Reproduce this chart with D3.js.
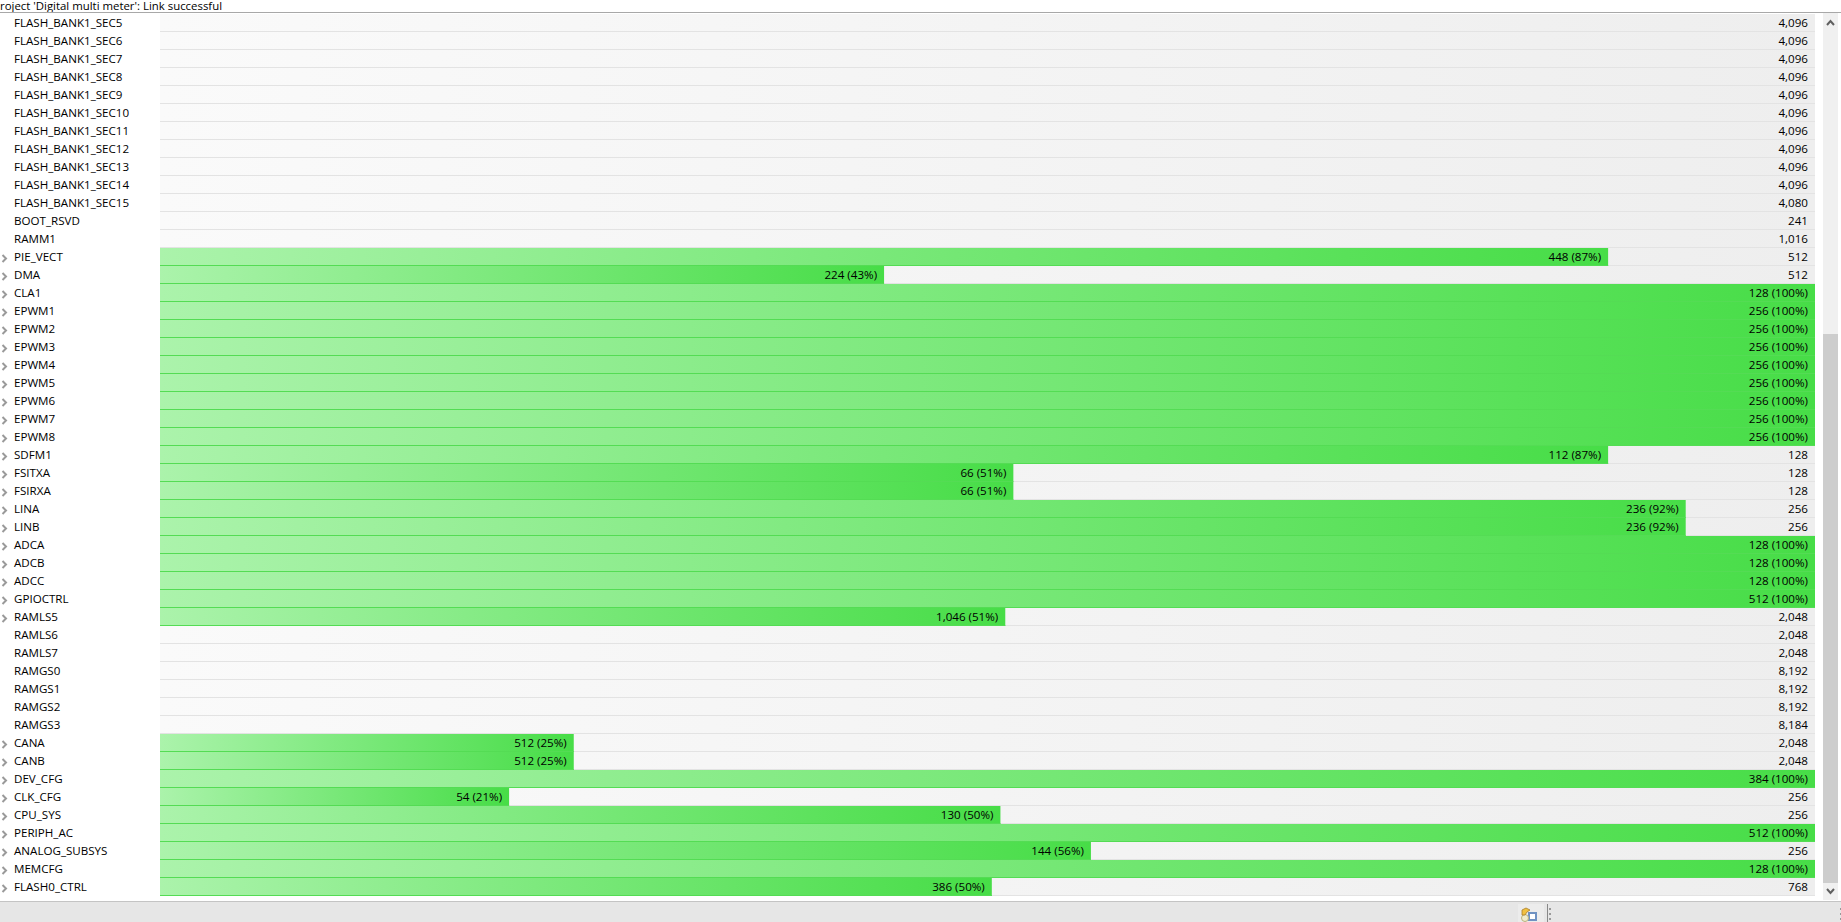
<!DOCTYPE html>
<html>
<head>
<meta charset="utf-8">
<title>Memory allocation</title>
<script src="https://cdn.jsdelivr.net/npm/d3@7"></script>
<style>
  html, body { margin: 0; padding: 0; background: #fff; overflow: hidden; }
  text { font-family: "Open Sans", "Noto Sans", sans-serif; font-size: 11.6px; fill: #000; }
</style>
</head>
<body>
<div id="chart"></div>
<script>
var names = ['FLASH_BANK1_SEC5','FLASH_BANK1_SEC6','FLASH_BANK1_SEC7','FLASH_BANK1_SEC8','FLASH_BANK1_SEC9',
  'FLASH_BANK1_SEC10','FLASH_BANK1_SEC11','FLASH_BANK1_SEC12','FLASH_BANK1_SEC13','FLASH_BANK1_SEC14','FLASH_BANK1_SEC15',
  'BOOT_RSVD','RAMM1','PIE_VECT','DMA','CLA1','EPWM1','EPWM2','EPWM3','EPWM4','EPWM5','EPWM6','EPWM7','EPWM8',
  'SDFM1','FSITXA','FSIRXA','LINA','LINB','ADCA','ADCB','ADCC','GPIOCTRL','RAMLS5','RAMLS6','RAMLS7',
  'RAMGS0','RAMGS1','RAMGS2','RAMGS3','CANA','CANB','DEV_CFG','CLK_CFG','CPU_SYS','PERIPH_AC','ANALOG_SUBSYS','MEMCFG','FLASH0_CTRL'];

var sizes = [4096,4096,4096,4096,4096,4096,4096,4096,4096,4096,4080,
  241,1016,512,512,128,256,256,256,256,256,256,256,256,
  128,128,128,256,256,128,128,128,512,2048,2048,2048,
  8192,8192,8192,8184,2048,2048,384,256,256,512,256,128,768];

var used = [0,0,0,0,0,0,0,0,0,0,0,
  0,0,448,224,128,256,256,256,256,256,256,256,256,
  112,66,66,236,236,128,128,128,512,1046,0,0,
  0,0,0,0,512,512,384,54,130,512,144,128,386];

var title = "roject 'Digital multi meter': Link successful";

var w = 1841, h = 922;
var barLeft = 160, barRight = 1815;

var rows = names.map(function(d, i) {
  return { name: d, size: sizes[i], used: used[i], i: i };
});

var svg = d3.select('#chart').append('svg')
  .attr('width', w)
  .attr('height', h)
  .style('display', 'block');

var defs = svg.append('defs');

function gradient(id, from, to) {
  var g = defs.append('linearGradient').attr('id', id);
  g.append('stop').attr('offset', '0%').attr('stop-color', from);
  g.append('stop').attr('offset', '100%').attr('stop-color', to);
}
gradient('free', '#fafafa', '#eeeeee');
gradient('fill', '#abf3ab', '#47dd47');

var y = d3.scaleBand()
  .domain(names)
  .range([14, 896]);

// each row has its own 0..size axis, they all span the same pixels
function xFor(d) {
  return d3.scaleLinear().domain([0, d.size]).range([barLeft, barRight]);
}

// top status line
svg.append('text')
  .attr('x', 0)
  .attr('y', 9.5)
  .style('font-size', '11.4px')
  .text(title);
svg.append('rect')
  .attr('x', 0).attr('y', 12)
  .attr('width', w).attr('height', 1)
  .attr('fill', '#a8a8a8');

var row = svg.selectAll('g.row')
  .data(rows)
  .enter().append('g')
  .attr('class', 'row');

row.append('rect')
  .attr('x', barLeft)
  .attr('y', function(d) { return y(d.name); })
  .attr('width', barRight - barLeft)
  .attr('height', y.bandwidth())
  .attr('fill', 'url(#free)');

// row separator
row.append('rect')
  .attr('x', barLeft)
  .attr('y', function(d) { return y(d.name) + y.bandwidth() - 1; })
  .attr('width', barRight - barLeft)
  .attr('height', 1)
  .attr('fill', '#e3e3e3');

var filled = row.filter(function(d) { return d.used > 0; });

filled.append('rect')
  .attr('x', barLeft)
  .attr('y', function(d) { return y(d.name); })
  .attr('width', function(d) { return xFor(d)(d.used) - barLeft; })
  .attr('height', y.bandwidth())
  .attr('fill', 'url(#fill)');

filled.append('rect')
  .attr('x', barLeft)
  .attr('y', function(d) { return y(d.name) + y.bandwidth() - 1; })
  .attr('width', function(d) { return xFor(d)(d.used) - barLeft; })
  .attr('height', 1)
  .attr('fill', '#54dc54');

// names
row.append('text')
  .attr('x', 14)
  .attr('y', function(d) { return y(d.name) + 13; })
  .text(function(d) { return d.name; });

// expand arrows
filled.append('path')
  .attr('d', function(d) {
    var c = y(d.name) + 10;
    return 'M2.5,' + (c - 3) + 'L6,' + (c + 0.5) + 'L2.5,' + (c + 4);
  })
  .attr('fill', 'none')
  .attr('stroke', '#9a9a9a')
  .attr('stroke-width', 2);

// size on the right, hidden under a full bar
row.filter(function(d) { return d.used < d.size; })
  .append('text')
  .attr('x', barRight - 7)
  .attr('y', function(d) { return y(d.name) + 13; })
  .attr('text-anchor', 'end')
  .text(function(d) { return d3.format(',')(d.size); });

// used (pct) at the end of the bar
filled.append('text')
  .attr('x', function(d) { return xFor(d)(d.used) - 7; })
  .attr('y', function(d) { return y(d.name) + 13; })
  .attr('text-anchor', 'end')
  .text(function(d) {
    return d3.format(',')(d.used) + ' (' + Math.floor(d.used / d.size * 100) + '%)';
  });

// scrollbar
svg.append('rect').attr('x', 1823).attr('y', 13).attr('width', 15).attr('height', 887).attr('fill', '#f0f0f0');
svg.append('rect').attr('x', 1823).attr('y', 334).attr('width', 15).attr('height', 549).attr('fill', '#cdcdcd');
svg.append('path').attr('d', 'M1827,25L1830.5,21L1834,25').attr('fill', 'none').attr('stroke', '#606060').attr('stroke-width', 2);
svg.append('path').attr('d', 'M1827,889L1830.5,893L1834,889').attr('fill', 'none').attr('stroke', '#606060').attr('stroke-width', 2);

// status bar at the bottom
svg.append('rect').attr('x', 0).attr('y', 901).attr('width', w).attr('height', 1).attr('fill', '#c4c4c4');
svg.append('rect').attr('x', 0).attr('y', 902).attr('width', w).attr('height', 20).attr('fill', '#e6e6e6');
svg.append('rect').attr('x', 1518).attr('y', 904).attr('width', 26).attr('height', 18).attr('fill', '#ececec');
svg.append('rect').attr('x', 1529).attr('y', 913).attr('width', 7).attr('height', 7).attr('fill', '#fff').attr('stroke', '#6f92c2').attr('stroke-width', 2);
svg.append('circle').attr('cx', 1525).attr('cy', 918).attr('r', 3.5).attr('fill', '#f0eccc').attr('stroke', '#b9b27c');
svg.append('path').attr('d', 'M1522,915L1522,910L1526,908L1530,910L1527,912L1525,915Z').attr('fill', '#f0c040').attr('stroke', '#a97f2a').attr('stroke-width', 0.8);
svg.append('rect').attr('x', 1547).attr('y', 904).attr('width', 1).attr('height', 18).attr('fill', '#888');
[1549, 1840].forEach(function(x) {
  [908, 913, 918].forEach(function(yy) {
    svg.append('rect').attr('x', x).attr('y', yy).attr('width', 2).attr('height', 2).attr('fill', '#999');
  });
});
</script>
</body>
</html>
